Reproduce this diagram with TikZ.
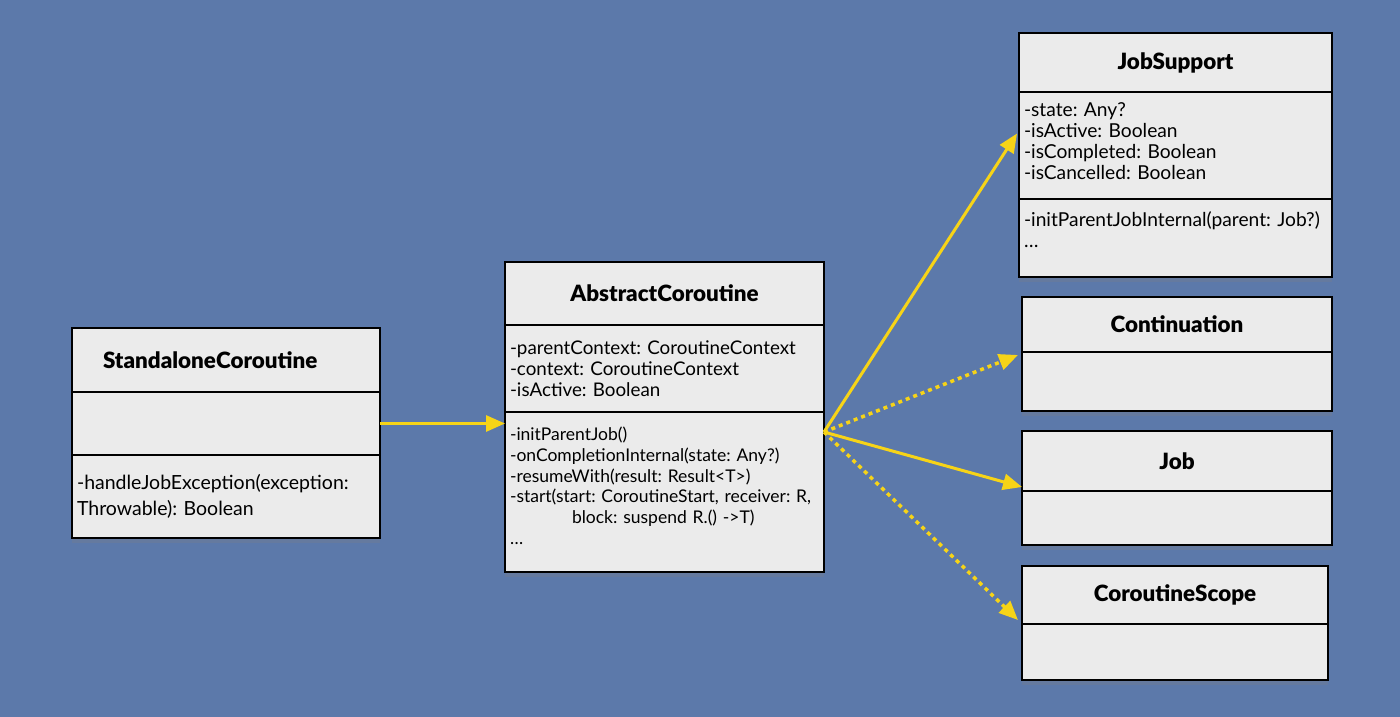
\documentclass[tikz,border=0pt]{standalone}
\usepackage{fontspec}
\setmainfont{Lato}
\newfontfamily\titlefont{Lato Black}
\usetikzlibrary{positioning,arrows.meta,shadows}

\definecolor{bgblue}{RGB}{92,121,170}
\definecolor{boxgray}{RGB}{235,235,235}
\definecolor{arrowyellow}{RGB}{247,212,23}

\frenchspacing

\begin{document}
\begin{tikzpicture}[x=1pt,y=-1pt]

  % Definitions
  \tikzstyle{Classpart} = [rectangle, draw=black, fill=boxgray, line width=1.2pt, outer sep=0pt, inner xsep=5pt, inner ysep=2pt]
  \tikzstyle{Classtitle} = [Classpart, text centered, font=\titlefont\fontsize{22.4}{26}\selectfont]
  \tikzstyle{Members} = [Classpart, align=left, font=\fontsize{18.8}{21}\selectfont]
  \tikzstyle{Lastpart} = [Members, drop shadow={shadow xshift=0pt, shadow yshift=-5pt, opacity=0.25}]
  \tikzstyle{sepline} = [line width=2.8pt]
  \tikzstyle{arrow} = [line width=3pt, draw=arrowyellow, -{Triangle[length=19pt,width=16pt,fill=arrowyellow]}]
  \tikzstyle{dottedarrow} = [arrow, line width=3.5pt, dash pattern=on 4pt off 4pt]

  \fill[bgblue] (0,0) rectangle (1400,717);
  \useasboundingbox (0,0) rectangle (1400,717);

  % StandaloneCoroutine
  \node (stdtitle) [Classtitle, text width=298pt, align=left, minimum height=64pt, anchor=north west] at (72,328) {\hspace*{26pt}StandaloneCoroutine};
  \node (stdbody) [Members, minimum width=308pt, minimum height=63pt, below=0pt of stdtitle] {};
  \node (stdmeth) [Lastpart, text width=298pt, minimum height=83pt, below=0pt of stdbody, font=\fontsize{19.5}{26}\selectfont] {-handleJobException(exception:\\Throwable): Boolean};

  % AbstractCoroutine
  \node (abstitle) [Classtitle, minimum width=319pt, minimum height=63pt, anchor=north west] at (505,262) {AbstractCoroutine};
  \node (absattr) [Members, text width=309pt, minimum height=87pt, below=0pt of abstitle] {-parentContext: CoroutineContext\\-context: CoroutineContext\\-isActive: Boolean};
  \node (absmeth) [Lastpart, text width=309pt, minimum height=160pt, below=0pt of absattr, font=\fontsize{17.5}{20.7}\selectfont] {-initParentJob()\\-onCompletionInternal(state: Any?)\\-resumeWith(result: Result<T>)\\-start(start: CoroutineStart, receiver: R,\\\hspace*{62pt}block: suspend R.() ->T)\\\ldots\\[-8pt]\mbox{}};

  % JobSupport
  \node (jstitle) [Classtitle, minimum width=313pt, minimum height=59pt, anchor=north west] at (1019,33) {JobSupport};
  \node (jsattr) [Members, text width=303pt, minimum height=107pt, below=0pt of jstitle, font=\fontsize{19.2}{21}\selectfont] {-state: Any?\\-isActive: Boolean\\-isCompleted: Boolean\\-isCancelled: Boolean\\[-12pt]\mbox{}};
  \node (jsmeth) [Lastpart, text width=303pt, minimum height=78pt, below=0pt of jsattr, font=\fontsize{19.2}{21}\selectfont] {-initParentJobInternal(parent: Job?)\\\ldots\\[-5pt]\mbox{}};

  % Continuation
  \node (conttitle) [Classtitle, minimum width=310pt, minimum height=55pt, anchor=north west] at (1022,297) {Continuation};
  \node (contbody) [Lastpart, minimum width=310pt, minimum height=59pt, below=0pt of conttitle] {};

  % Job
  \node (jobtitle) [Classtitle, minimum width=310pt, minimum height=60pt, anchor=north west] at (1022,431) {Job};
  \node (jobbody) [Lastpart, minimum width=310pt, minimum height=54pt, below=0pt of jobtitle] {};

  % CoroutineScope
  \node (scopetitle) [Classtitle, minimum width=306pt, minimum height=58pt, anchor=north west] at (1022,566) {CoroutineScope};
  \node (scopebody) [Lastpart, minimum width=306pt, minimum height=56pt, below=0pt of scopetitle] {};

  % Separators
  \draw [sepline] (stdtitle.south west) -- (stdtitle.south east);
  \draw [sepline] (stdbody.south west) -- (stdbody.south east);
  \draw [sepline] (abstitle.south west) -- (abstitle.south east);
  \draw [sepline] (absattr.south west) -- (absattr.south east);
  \draw [sepline] (jstitle.south west) -- (jstitle.south east);
  \draw [sepline] (jsattr.south west) -- (jsattr.south east);
  \draw [sepline] (conttitle.south west) -- (conttitle.south east);
  \draw [sepline] (jobtitle.south west) -- (jobtitle.south east);
  \draw [sepline] (scopetitle.south west) -- (scopetitle.south east);

  % Arrows
  \coordinate (fan) at ([yshift=60pt]absmeth.east);
  \draw [arrow] (stdbody.east) -- (stdbody.east -| absmeth.west);
  \draw [arrow] (fan) -- ([xshift=-2pt,yshift=12pt]jsattr.west);
  \draw [dottedarrow] (fan) -- ([xshift=-4pt,yshift=-3pt]conttitle.south west);
  \draw [arrow] (fan) -- ([yshift=4pt]jobtitle.south west);
  \draw [dottedarrow] (fan) -- ([xshift=-4pt,yshift=4pt]scopetitle.south west);

\end{tikzpicture}
\end{document}
